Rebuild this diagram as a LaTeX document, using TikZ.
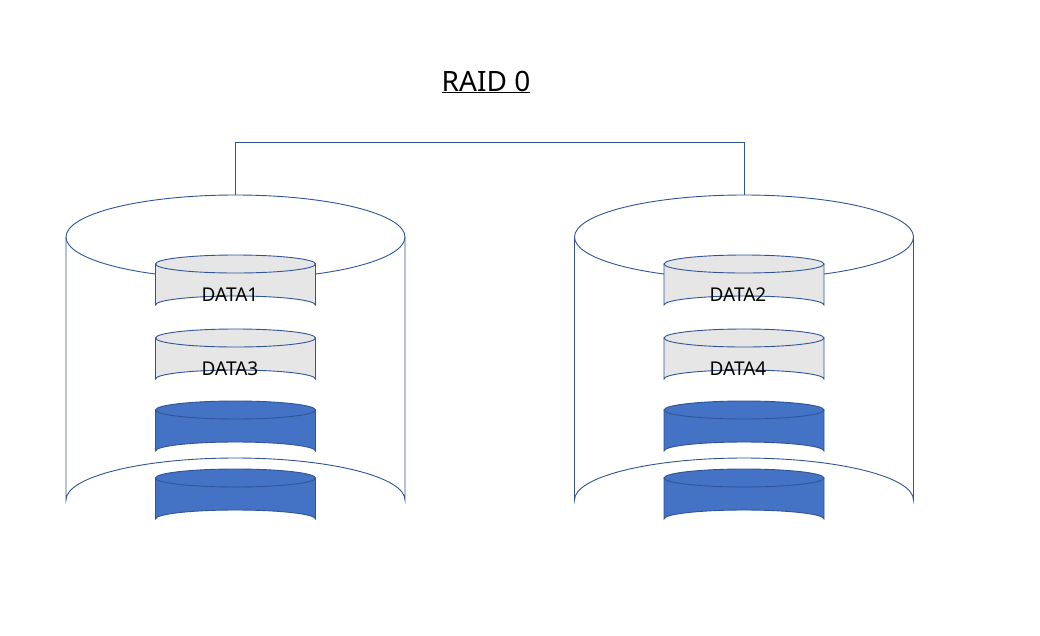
\documentclass[tikz,border=0pt]{standalone}
\usepackage{fontspec}
\setmainfont{Noto Sans}
\begin{document}
\begin{tikzpicture}[x=1pt,y=-1pt,
  edge/.style={draw=lc,line width=0.9pt},
  lbl/.style={font=\fontsize{19}{22}\selectfont,text=black}]
\definecolor{lc}{HTML}{2F5597}
\definecolor{gr}{HTML}{E7E6E6}
\definecolor{bl}{HTML}{4472C4}
\useasboundingbox (0,0) rectangle (1040,635);
\node[font=\bfseries\fontsize{28}{32}\selectfont] (title) at (486,82) {\underline{RAID 0}};
\newcommand{\bigcyl}[2]{%
  \path[edge,fill=white] (#1-169.5,237) -- (#1-169.5,500) arc[start angle=180,end angle=360,x radius=169.5,y radius=42] -- (#1+169.5,237);
  \path[edge,fill=white] (#1,237) ellipse[x radius=169.5,y radius=42];
  \coordinate (#2) at (#1,195);}
\newcommand{\smallcyl}[3]{% x, top y, fill
  \path[edge,fill=#3] (#1-80,#2) -- (#1-80,#2+41) arc[start angle=180,end angle=360,x radius=80,y radius=9] -- (#1+80,#2) -- cycle;
  \path[edge,fill=#3] (#1,#2) ellipse[x radius=80,y radius=9];}
\bigcyl{235.5}{topL}
\bigcyl{744}{topR}
\draw[edge] (topL) -- (235.5,142) -- (744,142) -- (topR);
\foreach \x in {235.5,744}{
  \smallcyl{\x}{264}{gr}
  \smallcyl{\x}{338}{gr}
  \smallcyl{\x}{410}{bl}
  \smallcyl{\x}{478}{bl}}
\node[lbl] (d1) at (230,295) {DATA1};
\node[lbl] (d3) at (230,369) {DATA3};
\node[lbl] (d2) at (738,295) {DATA2};
\node[lbl] (d4) at (738,369) {DATA4};
\end{tikzpicture}
\end{document}
